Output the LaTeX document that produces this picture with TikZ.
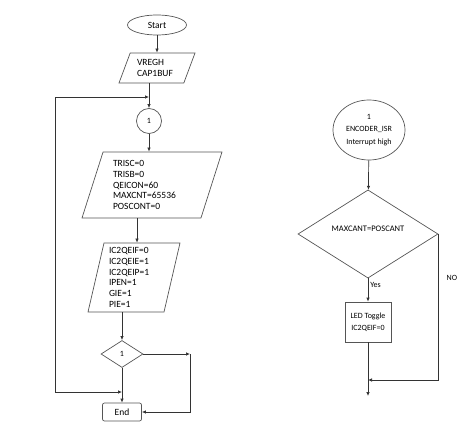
\documentclass[tikz,border=0pt]{standalone}
\usepackage{fontspec}
\setmainfont{Carlito}
\usepackage{tikz}
\usetikzlibrary{arrows.meta,calc,shapes.geometric}
\definecolor{FlowLine}{HTML}{333333}
\definecolor{FlowEdge}{HTML}{555555}
\tikzset{
  fcterm/.style={draw=FlowEdge, ellipse, line width=0.7pt, minimum width=59pt, minimum height=20pt, inner sep=0pt, font=\fontsize{9.5}{11}\selectfont},
  fcio/.style={draw=FlowEdge, trapezium, trapezium stretches body, line width=0.7pt, inner sep=2pt, align=left, font=\fontsize{9.5}{10.8}\selectfont},
  fcconn/.style={draw=FlowEdge, circle, line width=0.7pt, minimum size=25pt, inner sep=0pt, font=\fontsize{8}{9}\selectfont},
  fcdec/.style={draw=FlowEdge, diamond, line width=0.7pt, inner sep=0pt, align=center, font=\fontsize{8}{9}\selectfont},
  fcend/.style={draw=FlowEdge, rounded corners=2pt, line width=0.7pt, minimum width=39pt, minimum height=18pt, inner sep=0pt, font=\fontsize{9.5}{11}\selectfont},
  fcisr/.style={draw=FlowEdge, ellipse, line width=0.7pt, minimum width=72pt, minimum height=60pt, inner sep=0pt, align=center, font=\fontsize{8}{12.5}\selectfont},
  fcproc/.style={draw=FlowEdge, line width=0.7pt, minimum width=46pt, minimum height=40pt, inner sep=0pt, align=center, font=\fontsize{8}{12}\selectfont},
  fclabel/.style={inner sep=2pt, font=\fontsize{8}{9}\selectfont},
  fcline/.style={draw=FlowLine, line width=0.7pt},
  fcarrow/.style={fcline, -{Latex[length=4pt,width=3.5pt]}},
  fcback/.style={fcline, {Latex[length=4pt,width=3.5pt]}-{Latex[length=4pt,width=3.5pt]}}
}
\begin{document}
\begin{tikzpicture}[x=1pt, y=-1pt]
  \useasboundingbox (0,0) rectangle (474,433);
  % main program
  \node[fcterm] (start) at (157,25) {Start};
  \node[fcio, text width=40pt, minimum width=76pt, minimum height=30pt,
        trapezium left angle=62, trapezium right angle=118] (vregh) at (157,68) {VREGH\\CAP1BUF};
  \node[fcconn] (con1) at (149,121) {1};
  \node[fcio, text width=78pt, minimum width=140pt, minimum height=66pt,
        trapezium left angle=68.5, trapezium right angle=111.5] (init) at (152,185)
        {TRISC=0\\TRISB=0\\QEICON=60\\MAXCNT=65536\\POSCONT=0};
  \node[fcio, text width=50pt, minimum width=92pt, minimum height=69pt,
        trapezium left angle=76, trapezium right angle=104] (intr) at (134,277.5)
        {IC2QEIF=0\\IC2QEIE=1\\IC2QEIP=1\\IPEN=1\\GIE=1\\PIE=1};
  \node[fcdec, minimum width=42pt, minimum height=27pt] (chk) at (122,354) {1};
  \node[fcend] (endn) at (122,412) {End};
  \coordinate (jtop) at (149,97);
  \coordinate (jlow) at (122,392);
  \coordinate (lside) at (55,392);
  \coordinate (rside) at (190,354);

  \draw[fcarrow] (start) -- (vregh);
  \draw[fcarrow] (vregh.south -| con1) -- (con1);
  \draw[fcarrow] (con1) -- (con1 |- init.north);
  \draw[fcarrow] ([xshift=-15pt]init.south) -- ([xshift=-15pt]init.south |- intr.north);
  \draw[fcarrow] (intr.south -| chk) -- (chk);
  \draw[fcarrow] (chk) -- (endn);
  \draw[fcback] (jlow) -- (lside) |- (jtop);
  \draw[fcarrow] (chk.east) -- (rside);
  \draw[fcarrow] (rside) |- (endn.east);

  % interrupt routine
  \node[fcisr] (isr) at (369,130) {1\\ENCODER\_ISR\\Interrupt high};
  \node[fcdec, minimum width=140pt, minimum height=70pt, font=\fontsize{8.5}{10}\selectfont] (cmp) at (368,234)
        {\raisebox{10pt}{MAXCANT=POSCANT}};
  \node[fcproc] (led) at (368,322) {LED Toggle\\IC2QEIF=0};
  \coordinate (jmerge) at (368,380);
  \coordinate (isrout) at (368,396);

  \draw[fcarrow] (isr) -- (cmp);
  \draw[fcarrow] (cmp) -- node[fclabel, right, pos=0.27] {Yes} (led);
  \draw[fcarrow] (cmp.east) |- node[fclabel, right, pos=0.15, xshift=6pt] {NO} (jmerge);
  \draw[fcline] (led) -- (jmerge);
  \draw[fcarrow] (jmerge) -- (isrout);
\end{tikzpicture}
\end{document}
